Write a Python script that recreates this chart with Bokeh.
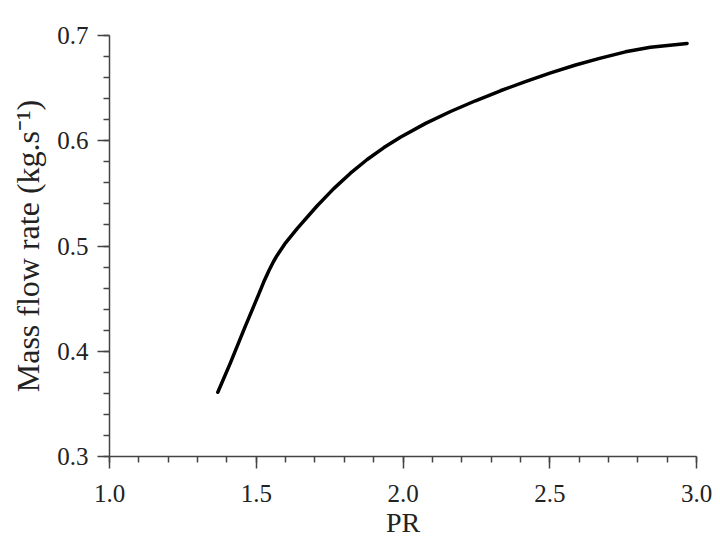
from bokeh.plotting import figure
from bokeh.models import Range1d, SingleIntervalTicker, NumeralTickFormatter
from bokeh.embed import file_html
from bokeh.resources import INLINE

pr = [1.369, 1.412, 1.458, 1.509, 1.525, 1.543, 1.558, 1.571, 1.600, 1.640,
      1.707, 1.764, 1.821, 1.878, 1.935, 1.991, 2.077, 2.162, 2.247, 2.332,
      2.417, 2.503, 2.588, 2.673, 2.758, 2.843, 2.968]
mass_flow = [0.361, 0.389, 0.4205, 0.4545, 0.4655, 0.4765, 0.4848, 0.4910, 0.5030, 0.5168,
             0.5380, 0.5545, 0.5692, 0.5822, 0.5935, 0.6034, 0.6165, 0.6278, 0.6380, 0.6475,
             0.6562, 0.6645, 0.6720, 0.6785, 0.6845, 0.6888, 0.6925]

x_label = "PR"
y_label = "Mass flow rate (kg.s\u207b\u00b9)"

FONT = "Liberation Serif"
TXT = "#222222"
AX = "#444444"

p = figure(width=712, height=541, output_backend="svg", toolbar_location=None,
           x_range=Range1d(1.0, 3.0), y_range=Range1d(0.3, 0.70001),
           min_border_left=109, min_border_right=16, min_border_top=35, min_border_bottom=85)
p.outline_line_color = None
p.xgrid.visible = False
p.ygrid.visible = False
p.background_fill_color = "white"
p.border_fill_color = "white"

p.line(pr, mass_flow, line_color="black", line_width=3.5, line_cap="round", line_join="round")

p.xaxis.ticker = SingleIntervalTicker(interval=0.5, num_minor_ticks=5)
p.yaxis.ticker = SingleIntervalTicker(interval=0.1, num_minor_ticks=5)
p.xaxis.formatter = NumeralTickFormatter(format="0.0")
p.yaxis.formatter = NumeralTickFormatter(format="0.0")

for ax in (p.xaxis, p.yaxis):
    ax.axis_line_color = AX
    ax.axis_line_width = 1.5
    ax.major_tick_line_color = AX
    ax.major_tick_line_width = 1.5
    ax.minor_tick_line_color = AX
    ax.minor_tick_line_width = 1.5
    ax.major_tick_in = 0
    ax.major_tick_out = 12
    ax.minor_tick_in = 0
    ax.minor_tick_out = 6
    ax.major_label_text_font = FONT
    ax.major_label_text_font_size = "25px"
    ax.major_label_text_color = TXT
    ax.axis_label_text_font = FONT
    ax.axis_label_text_font_style = "normal"
    ax.axis_label_text_color = TXT

p.xaxis.axis_label = x_label
p.yaxis.axis_label = y_label
p.xaxis.axis_label_text_font_size = "28px"
p.yaxis.axis_label_text_font_size = "32px"
p.xaxis.major_label_standoff = 16
p.yaxis.major_label_standoff = 9
p.xaxis.axis_label_standoff = 2
p.yaxis.axis_label_standoff = 8

open("out.html", "w").write(file_html(p, INLINE))
